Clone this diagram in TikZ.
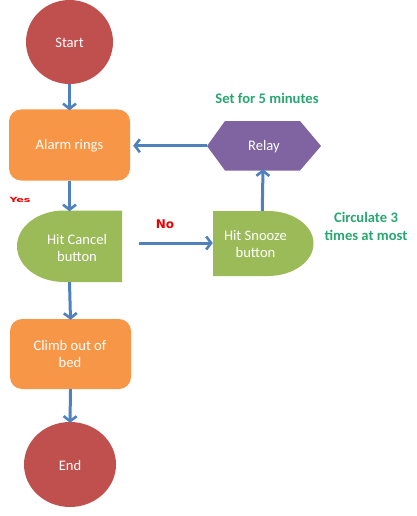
\documentclass[tikz,border=0pt]{standalone}
\usepackage{fontspec}
\usepackage{graphicx}
\setmainfont{Carlito}
\newfontfamily\labfont{DejaVu Sans}
\usetikzlibrary{shapes.geometric,arrows.meta}
\definecolor{cred}{HTML}{C0504D}
\definecolor{corange}{HTML}{F79646}
\definecolor{cgreen}{HTML}{9BBB59}
\definecolor{cpurple}{HTML}{8064A2}
\definecolor{cblue}{HTML}{4F81BD}
\definecolor{cnote}{RGB}{40,166,112}
\definecolor{clab}{RGB}{235,0,0}
\tikzset{
  txt/.style={text=white,font=\fontsize{14.6}{17.5}\selectfont,align=center,inner sep=0pt},
  term/.style={ellipse,fill=cred,draw=none,inner sep=0pt},
  procbox/.style={rectangle,rounded corners=12pt,fill=corange,draw=none,inner sep=0pt,minimum width=121pt,minimum height=71pt},
  frame/.style={rectangle,draw=none,inner sep=0pt},
  flow/.style={draw=cblue,line width=3pt,-{Straight Barb[length=5pt,width=13pt,line width=2.6pt]}},
  note/.style={text=cnote,font=\fontsize{14.6}{18}\selectfont\bfseries,align=center,inner sep=0pt},
  lab/.style={text=clab,font=\labfont\bfseries,inner sep=0pt}
}
\begin{document}
\begin{tikzpicture}[x=1pt,y=-1pt]
\useasboundingbox (0,0) rectangle (417,516);
% terminals
\node[term,minimum width=87pt,minimum height=84pt] (start) at (69.5,42) {};
\node[txt] at (69.5,43) {Start};
\node[term,minimum width=92pt,minimum height=85pt] (end) at (70,464.5) {};
\node[txt] at (70,465) {End};
% process boxes
\node[procbox] (alarm) at (69.5,145) {};
\node[txt] at (69.5,146) {Alarm rings};
\node[procbox,minimum height=70pt] (climb) at (70.5,354) {};
\node[txt] at (70,354) {Climb out of\\bed};
% Hit Cancel (rounded left, flat right)
\fill[cgreen] (122,210.5) -- (64,210.5) arc[start angle=90,end angle=270,x radius=47pt,y radius=35.75pt] -- (122,282) -- cycle;
\node[frame,minimum width=105pt,minimum height=71.5pt] (cancel) at (69.5,246.25) {};
\node[txt] at (77,248) {Hit Cancel\\button};
% Hit Snooze (flat left, rounded right)
\fill[cgreen] (213,211) -- (268,211) arc[start angle=90,end angle=-90,x radius=45.5pt,y radius=32.5pt] -- (213,276) -- cycle;
\node[frame,minimum width=100.5pt,minimum height=65pt] (snooze) at (263.25,243.5) {};
\node[txt] at (255.5,244) {Hit Snooze\\button};
% Relay hexagon
\fill[cpurple] (207,146) -- (225,121) -- (300,121) -- (321,146) -- (300,170.5) -- (225,170.5) -- cycle;
\node[frame,minimum width=114pt,minimum height=49.5pt] (relay) at (264,145.75) {};
\node[txt] at (264,147) {Relay};
% connectors
\draw[flow] (start.south) -- ([yshift=-1pt]alarm.north);
\draw[flow] (alarm.south) -- ([yshift=-1pt]cancel.north);
\draw[flow] (cancel.south) -- ([yshift=-1pt]climb.north);
\draw[flow] (climb.south) -- ([yshift=-1pt]end.north);
\coordinate (nostart) at (139,243);
\draw[flow] (nostart) -- (snooze.west |- nostart);
\draw[flow] ([xshift=-1pt]snooze.north) -- ([xshift=-1pt,yshift=1.5pt]relay.south);
\draw[flow] (relay.west) -- ([xshift=3pt]alarm.east |- relay.west);
% labels
\node[lab,font=\labfont\bfseries\fontsize{12}{14}\selectfont] (no) at (165,224) {No};
\node[lab] (yes) at (20,200) {\fontsize{11}{11}\selectfont\scalebox{1}[0.65]{Yes}};
\node[note] (setfor) at (267,98) {Set for 5 minutes};
\node[note] (circ) at (366,226) {Circulate 3\\times at most};
\end{tikzpicture}
\end{document}
